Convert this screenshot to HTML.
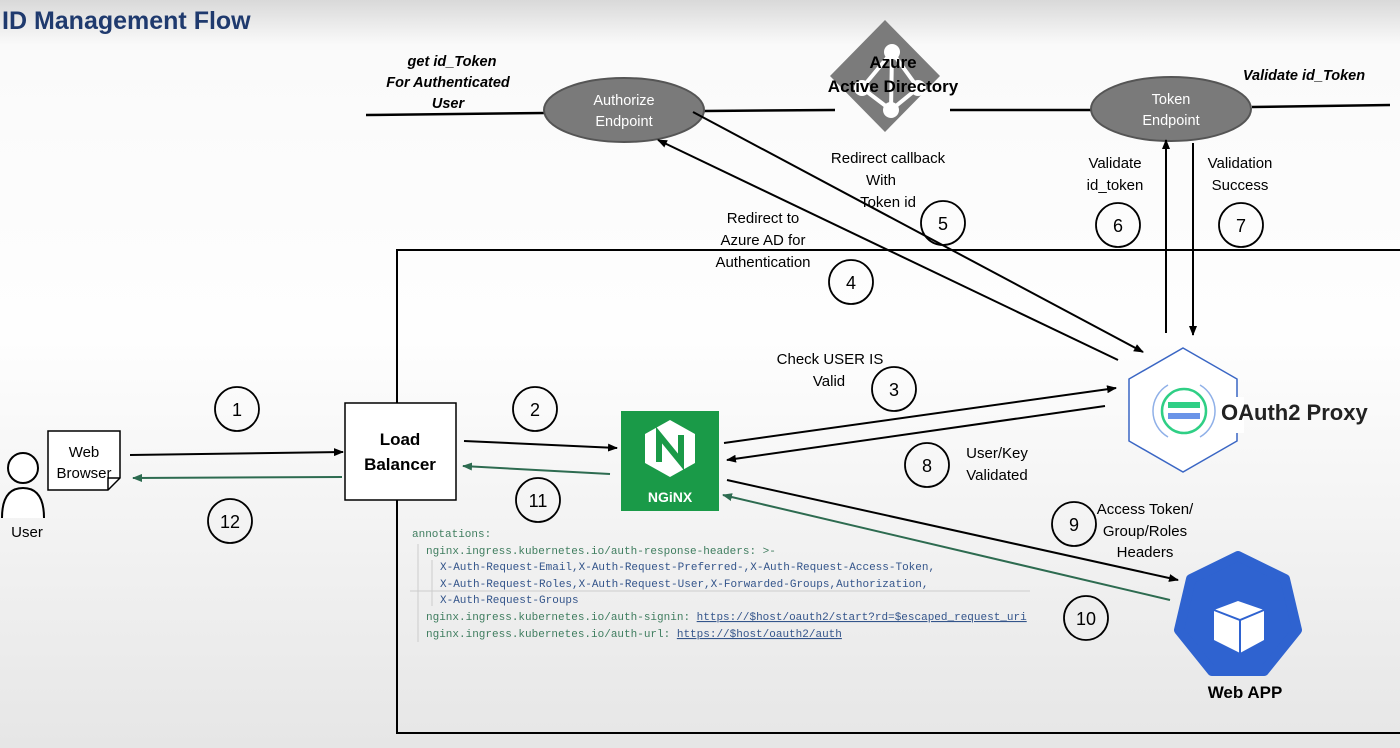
<!DOCTYPE html>
<html><head><meta charset="utf-8"><style>
html,body{margin:0;padding:0;width:1400px;height:748px;overflow:hidden;background:#fff}
svg{display:block}
text{font-family:"Liberation Sans",sans-serif}
.m text{font-family:"Liberation Mono",monospace;font-size:11px}
</style></head><body>
<svg width="1400" height="748" viewBox="0 0 1400 748">
<defs>
<linearGradient id="bg" x1="0" y1="0" x2="0" y2="1">
<stop offset="0" stop-color="#d9d9d9"/><stop offset="0.06" stop-color="#fafafa"/><stop offset="0.45" stop-color="#fefefe"/><stop offset="1" stop-color="#e6e6e6"/>
</linearGradient>
<marker id="a" markerWidth="10" markerHeight="8" refX="9" refY="4" orient="auto" markerUnits="userSpaceOnUse"><path d="M0,0 L10,4 L0,8 Z" fill="#000"/></marker>
<marker id="g" markerWidth="10" markerHeight="8" refX="9" refY="4" orient="auto" markerUnits="userSpaceOnUse"><path d="M0,0 L10,4 L0,8 Z" fill="#2d6b50"/></marker>
</defs>
<rect width="1400" height="748" fill="url(#bg)"/>
<text x="2" y="29" font-size="25" font-weight="bold" fill="#1f3a6e">ID Management Flow</text>

<g stroke="#000" stroke-width="2.5">
<line x1="366" y1="115" x2="545" y2="113"/>
<line x1="704" y1="111" x2="835" y2="110"/>
<line x1="950" y1="110" x2="1092" y2="110"/>
<line x1="1252" y1="107" x2="1390" y2="105"/>
</g>
<g font-style="italic" font-weight="bold" font-size="14.5" text-anchor="middle">
<text x="452" y="66">get id_Token</text><text x="448" y="87">For Authenticated</text><text x="448" y="108">User</text>
<text x="1304" y="80">Validate id_Token</text>
</g>
<ellipse cx="624" cy="110" rx="80" ry="32" fill="#7a7a7a" stroke="#555" stroke-width="2"/>
<text x="624" y="105" fill="#fff" font-size="14.5" text-anchor="middle">Authorize</text>
<text x="624" y="126" fill="#fff" font-size="14.5" text-anchor="middle">Endpoint</text>
<ellipse cx="1171" cy="109" rx="80" ry="32" fill="#7a7a7a" stroke="#555" stroke-width="2"/>
<text x="1171" y="104" fill="#fff" font-size="14.5" text-anchor="middle">Token</text>
<text x="1171" y="125" fill="#fff" font-size="14.5" text-anchor="middle">Endpoint</text>
<polygon points="885,20 940,76 885,132 830,76" fill="#7b7b7b"/>
<g stroke="#fff" stroke-width="4" fill="none"><polyline points="892,52 862,88 891,110 918,88 892,52 891,110"/></g>
<circle cx="892" cy="52" r="8" fill="#fff"/><circle cx="862" cy="88" r="8" fill="#fff"/><circle cx="918" cy="88" r="8" fill="#fff"/><circle cx="891" cy="110" r="8" fill="#fff"/>
<text x="893" y="68" font-size="17" font-weight="bold" text-anchor="middle">Azure</text>
<text x="893" y="92" font-size="17" font-weight="bold" text-anchor="middle">Active Directory</text>

<rect x="397" y="250" width="1010" height="483" fill="none" stroke="#000" stroke-width="2"/>

<g stroke="#000" stroke-width="2">
<line x1="1118" y1="360" x2="658" y2="140" marker-end="url(#a)"/>
<line x1="693" y1="112" x2="1143" y2="352" marker-end="url(#a)"/>
<line x1="1166" y1="333" x2="1166" y2="140" marker-end="url(#a)"/>
<line x1="1193" y1="143" x2="1193" y2="335" marker-end="url(#a)"/>
<line x1="130" y1="455" x2="343" y2="452" marker-end="url(#a)"/>
<line x1="464" y1="441" x2="617" y2="448" marker-end="url(#a)"/>
<line x1="724" y1="443" x2="1116" y2="388" marker-end="url(#a)"/>
<line x1="1105" y1="406" x2="727" y2="460" marker-end="url(#a)"/>
<line x1="727" y1="480" x2="1178" y2="580" marker-end="url(#a)"/>
</g>
<g stroke="#2d6b50" stroke-width="2">
<line x1="342" y1="477" x2="133" y2="478" marker-end="url(#g)"/>
<line x1="610" y1="474" x2="463" y2="466" marker-end="url(#g)"/>
<line x1="1170" y1="600" x2="723" y2="495" marker-end="url(#g)"/>
</g>

<g font-size="15" text-anchor="middle">
<text x="888" y="163">Redirect callback</text><text x="881" y="185">With</text><text x="888" y="207">Token id</text>
<text x="763" y="223">Redirect to</text><text x="763" y="245">Azure AD for</text><text x="763" y="267">Authentication</text>
<text x="1115" y="168">Validate</text><text x="1115" y="190">id_token</text>
<text x="1240" y="168">Validation</text><text x="1240" y="190">Success</text>
<text x="830" y="364">Check USER  IS</text><text x="829" y="386">Valid</text>
<text x="997" y="458">User/Key</text><text x="997" y="480">Validated</text>
<text x="1145" y="514">Access Token/</text><text x="1145" y="536">Group/Roles</text><text x="1145" y="557">Headers</text>
<text x="27" y="537">User</text>
</g>

<g fill="none" stroke="#000" stroke-width="1.8">
<circle cx="237" cy="409" r="22"/><circle cx="535" cy="409" r="22"/><circle cx="894" cy="389" r="22"/>
<circle cx="851" cy="282" r="22"/><circle cx="943" cy="223" r="22"/><circle cx="1118" cy="225" r="22"/>
<circle cx="1241" cy="225" r="22"/><circle cx="927" cy="465" r="22"/><circle cx="1074" cy="524" r="22"/>
<circle cx="1086" cy="618" r="22"/><circle cx="538" cy="500" r="22"/><circle cx="230" cy="521" r="22"/>
</g>
<g font-size="18" text-anchor="middle">
<text x="237" y="416">1</text><text x="535" y="416">2</text><text x="894" y="396">3</text>
<text x="851" y="289">4</text><text x="943" y="230">5</text><text x="1118" y="232">6</text>
<text x="1241" y="232">7</text><text x="927" y="472">8</text><text x="1074" y="531">9</text>
<text x="1086" y="625">10</text><text x="538" y="507">11</text><text x="230" y="528">12</text>
</g>

<circle cx="23" cy="468" r="15" fill="#fff" stroke="#000" stroke-width="2"/>
<path d="M2,518 Q2,488 23,488 Q44,488 44,518" fill="#fff" stroke="#000" stroke-width="2"/>
<path d="M48,431 H120 V478 L108,490 H48 Z" fill="#fff" stroke="#000" stroke-width="1.5"/>
<path d="M120,478 L108,478 L108,490" fill="none" stroke="#000" stroke-width="1.5"/>
<text x="84" y="457" font-size="15" text-anchor="middle">Web</text>
<text x="84" y="478" font-size="15" text-anchor="middle">Browser</text>
<rect x="345" y="403" width="111" height="97" fill="#fff" stroke="#000" stroke-width="1.5"/>
<text x="400" y="445" font-size="17" font-weight="bold" text-anchor="middle">Load</text>
<text x="400" y="470" font-size="17" font-weight="bold" text-anchor="middle">Balancer</text>
<rect x="621" y="411" width="98" height="100" fill="#1a9a48"/>
<polygon points="670,420 695,434 695,463 670,477 645,463 645,434" fill="#fff"/>
<path d="M659,462 V435 L681,462 V435" fill="none" stroke="#1a9a48" stroke-width="6"/>
<text x="670" y="502" font-size="14" font-weight="bold" fill="#fff" text-anchor="middle">NGiNX</text>
<polygon points="1183,348 1237,379 1237,441 1183,472 1129,441 1129,379" fill="#fff" stroke="#3a66c4" stroke-width="1.5"/>
<rect x="1230" y="397" width="14" height="36" fill="#fff"/>
<path d="M1168,385 A30,30 0 0 0 1168,437 M1200,385 A30,30 0 0 1 1200,437" fill="none" stroke="#8fb0e8" stroke-width="1.5"/>
<circle cx="1184" cy="411" r="22" fill="#fff" stroke="#2fcf85" stroke-width="2.5"/>
<rect x="1168" y="402" width="32" height="6" fill="#2fcf85"/><rect x="1168" y="413" width="32" height="6" fill="#6a94e8"/>
<text x="1221" y="420" font-size="22" font-weight="bold" fill="#222">OAuth2 Proxy</text>
<polygon points="1238,556 1285,579 1297,630 1264,671 1212,671 1179,630 1191,579" fill="#2f63d0" stroke="#2f63d0" stroke-width="10" stroke-linejoin="round"/>
<polygon points="1238,601 1264,610 1264,640 1240,653 1214,640 1214,610" fill="#fff"/>
<path d="M1214,610 L1240,620 L1264,610 M1240,620 V653" fill="none" stroke="#2f63d0" stroke-width="2"/>
<text x="1245" y="698" font-size="17" font-weight="bold" text-anchor="middle">Web APP</text>

<g stroke="#ccc" stroke-width="1"><line x1="418" y1="544" x2="418" y2="642"/><line x1="432" y1="560" x2="432" y2="606"/><line x1="410" y1="591" x2="1030" y2="591"/></g>
<g class="m">
<text x="412" y="537" fill="#3f7d5f">annotations:</text>
<text x="426" y="554" fill="#3f7d5f">nginx.ingress.kubernetes.io/auth-response-headers: &gt;-</text>
<text x="440" y="570" fill="#34558b">X-Auth-Request-Email,X-Auth-Request-Preferred-,X-Auth-Request-Access-Token,</text>
<text x="440" y="587" fill="#34558b">X-Auth-Request-Roles,X-Auth-Request-User,X-Forwarded-Groups,Authorization,</text>
<text x="440" y="603" fill="#34558b">X-Auth-Request-Groups</text>
<text x="426" y="620" fill="#3f7d5f">nginx.ingress.kubernetes.io/auth-signin: <tspan fill="#34558b" text-decoration="underline">https://$host/oauth2/start?rd=$escaped_request_uri</tspan></text>
<text x="426" y="637" fill="#3f7d5f">nginx.ingress.kubernetes.io/auth-url: <tspan fill="#34558b" text-decoration="underline">https://$host/oauth2/auth</tspan></text>
</g>
</svg>
</body></html>
